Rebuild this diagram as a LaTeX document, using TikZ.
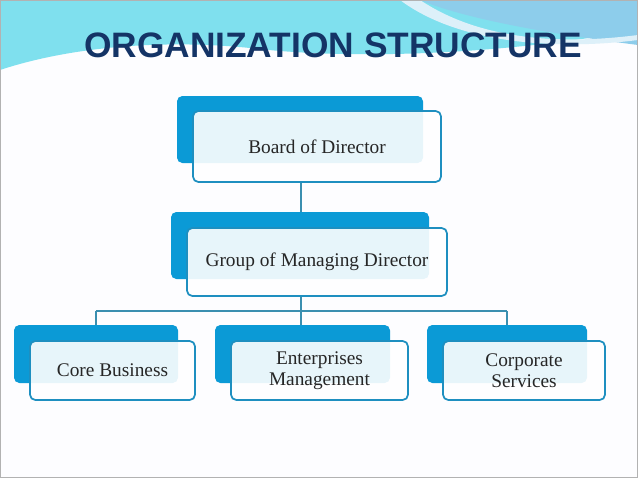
\documentclass[tikz,border=0pt]{standalone}
\usepackage{fontspec}
\setmainfont{Liberation Serif}
\newfontfamily\titlefont{Liberation Sans}
\definecolor{back}{HTML}{0B9AD6}
\definecolor{edge}{HTML}{1E8FC0}
\definecolor{conn}{HTML}{3A8FB0}
\definecolor{navy}{HTML}{143466}
\definecolor{wave1}{HTML}{7FE0EE}
\definecolor{wave2}{HTML}{8DCDEB}
\tikzset{
  backbox/.style={fill=back, rounded corners=4pt},
  frontbox/.style={draw=edge, line width=1.3pt, fill=white, fill opacity=0.9, text opacity=1, rounded corners=4pt, align=center, font=\fontsize{14.5}{16}\selectfont, text=black!85},
  conline/.style={draw=conn, line width=1.2pt}
}
\begin{document}
\begin{tikzpicture}[x=0.75pt,y=-0.75pt]
\useasboundingbox (0,0) rectangle (638,478);
\fill[white!96!blue!20] (0,0) rectangle (638,478);
% top waves
\fill[wave1] (0,0) -- (638,0) -- (638,30) .. controls (500,55) and (350,60) .. (250,48) .. controls (150,38) and (60,50) .. (0,70) -- cycle;
\fill[wave2] (720,0) -- (638,0) -- (638,45) .. controls (600,40) and (480,25) .. (420,0) -- cycle;
\fill[white!70!wave2] (638,35) .. controls (560,45) and (480,40) .. (420,0) -- (400,0) .. controls (460,45) and (560,50) .. (638,40) -- cycle;
\draw[gray!60, line width=0.6pt] (0.5,0.5) rectangle (637.5,477.5);
% title
\node[font=\titlefont\bfseries\fontsize{26.5}{30}\selectfont, text=navy] (title) at (333,45) {ORGANIZATION STRUCTURE};
% boxes
\fill[backbox] (177,96) rectangle (423,163);
\node[frontbox, minimum width=248*0.75pt, minimum height=71*0.75pt] (bod) at (317,146.5) {Board of Director};
\fill[backbox] (171,212) rectangle (429,279);
\node[frontbox, minimum width=260*0.75pt, minimum height=68*0.75pt] (gmd) at (317,262) {Group of Managing Director};
\fill[backbox] (14,325) rectangle (178,383);
\node[frontbox, minimum width=165*0.75pt, minimum height=59*0.75pt] (core) at (112.5,370.5) {Core Business};
\fill[backbox] (215,325) rectangle (390,383);
\node[frontbox, minimum width=177*0.75pt, minimum height=59*0.75pt] (ent) at (319.5,370.5) {Enterprises\\Management};
\fill[backbox] (427,325) rectangle (587,383);
\node[frontbox, minimum width=162*0.75pt, minimum height=59*0.75pt] (corp) at (524,370.5) {Corporate\\Services};
% connectors
\coordinate (bus) at (301,311);
\coordinate (busL) at (96,311);
\coordinate (busR) at (507,311);
\draw[conline] (bod.south -| bus) -- (301,212);
\draw[conline] (gmd.south -| bus) -- (bus);
\draw[conline] (busL) -- (busR);
\draw[conline] (busL) -- (96,325);
\draw[conline] (bus) -- (301,325);
\draw[conline] (busR) -- (507,325);
\end{tikzpicture}
\end{document}
